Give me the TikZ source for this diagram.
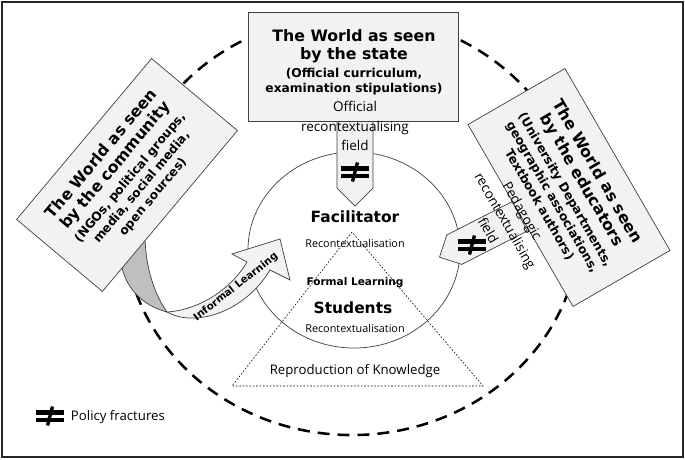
\documentclass[tikz,border=0pt]{standalone}
\usepackage{fontspec}
\setmainfont{Open Sans}
\newfontfamily\verafont{DejaVu Sans}
\usetikzlibrary{shapes.arrows,shapes.geometric}

\newcommand\titlesize{\verafont\bfseries\fontsize{11.2}{12.8}\selectfont}
\newcommand\subsize{\verafont\bfseries\fontsize{8.7}{10.6}\selectfont}

\tikzset{
  fracture/.pic={
    \fill (-14,-6) rectangle (14,-1.5);
    \fill (-14,1.5) rectangle (14,6);
    \draw[line width=2.4pt] (2.5,-9.5) -- (-2.5,9.5);
  }
}

\begin{document}
\begin{tikzpicture}[x=0.025cm, y=-0.025cm,
  worldbox/.style={draw=black!75, fill=black!5, line width=0.5pt, minimum width=5.25cm, minimum height=2.8cm, inner sep=1pt, align=center, font=\titlesize},
  fieldarrow/.style={single arrow, draw=black!75, fill=black!5, line width=0.5pt, single arrow head extend=0pt, single arrow tip angle=90, inner sep=0pt},
  roletext/.style={font=\verafont\bfseries\fontsize{11}{13}\selectfont},
  smalltext/.style={font=\fontsize{7.7}{9}\selectfont},
  fieldtext/.style={align=center, font=\fontsize{9.6}{14}\selectfont},
  thinline/.style={draw=black!75, line width=0.5pt}
]
\useasboundingbox (0,0) rectangle (685,460);
\draw[line width=1.6pt, draw=black!85] (2,2) rectangle (683,457);

% outer field and classroom
\draw[line width=1.8pt, dash pattern=on 8.5pt off 5.7pt] (352,225) ellipse [x radius=5.7cm, y radius=5.25cm];
\node[ellipse, thinline, minimum width=5.3cm, minimum height=4.9cm, inner sep=0pt] (classroom) at (354,250) {};
\draw[line width=0.4pt, dash pattern=on 1.2pt off 1.2pt] (352,232) -- (232,386) -- (483,386) -- cycle;

% informal learning arrow
\filldraw[thinline, fill=black!25] (121,262) .. controls (124,285) and (140,305) .. (167,312)
  .. controls (155,295) and (146,270) .. (145,238) -- cycle;
\filldraw[thinline, fill=black!5] (167,312) .. controls (195,328) and (245,312) .. (270,270)
  -- (290,280) -- (280,239) -- (232,254) -- (247,262)
  .. controls (232,288) and (200,310) .. (167,312) -- cycle;
\node[rotate=38, font=\verafont\bfseries\fontsize{7.3}{8}\selectfont] (informal) at (236,287) {Informal Learning};

% field arrows
\node[fieldarrow, minimum height=2.4cm, minimum width=0.9cm, rotate=-90] (officialarrow) at (355,149) {};
\node[fieldarrow, minimum height=2.25cm, minimum width=0.825cm, rotate=207] (pedarrow) at (487,233) {};

% the three worlds
\node[worldbox, minimum height=2.725cm] (state) at (353,66.5) {};
\node[align=center, font=\titlesize] (statetitle) at (354,62) {The World as seen\\ by the state\\ \subsize (Official curriculum,\\[-2.2pt] \subsize examination stipulations)};
\node[worldbox, rotate=50] (community) at (127,175) {The World as seen\\ by the community\\ \subsize (NGOs, political groups,\\[-2.2pt] \subsize media, social media,\\[-2.2pt] \subsize open sources)};
\node[worldbox, rotate=-60] (educators) at (569,187.5) {The World as seen\\ by the educators\\ \subsize (University Departments,\\[-2.2pt] \subsize geographic associations,\\[-2.2pt] \subsize Textbook authors)};

\node[fieldtext] (offfield) at (355,126) {Official\\recontextualising\\field};
\node[fieldtext, rotate=-60] (pedfield) at (505.5,220.5) {Pedagogic\\recontextualising\\field};
\pic at (355,172) {fracture};
\pic at (472,245) {fracture};

% inside the classroom
\node[roletext] (facil) at (355,217) {Facilitator};
\node[smalltext] (reconfacil) at (355,243) {Recontextualisation};
\node[font=\verafont\bfseries\fontsize{7.5}{9}\selectfont] (formal) at (355,283) {Formal Learning};
\node[roletext] (students) at (353,308) {Students};
\node[smalltext] (reconstud) at (355,328) {Recontextualisation};
\node[font=\fontsize{9.4}{11}\selectfont] (reproduction) at (355,371) {Reproduction of Knowledge};

% legend
\pic at (50,416) {fracture};
\node[anchor=west, font=\fontsize{9.4}{11}\selectfont] (legend) at (66,417) {Policy fractures};
\end{tikzpicture}
\end{document}
